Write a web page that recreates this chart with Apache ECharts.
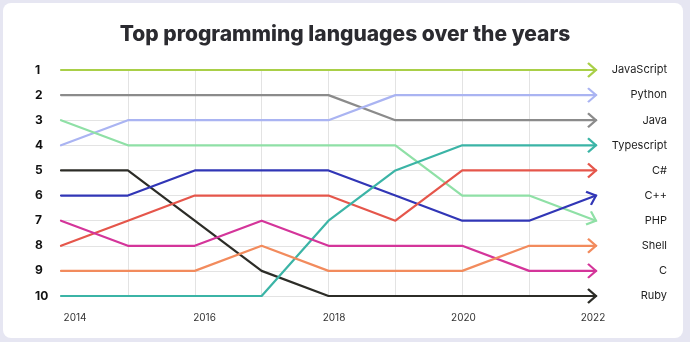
<!DOCTYPE html>
<html>
<head>
<meta charset="utf-8">
<script src="https://cdn.jsdelivr.net/npm/echarts@6/dist/echarts.min.js"></script>
<style>
  html, body { margin: 0; padding: 0; background: #e6e6f2; }
  #chart { width: 690px; height: 342px; }
</style>
</head>
<body>
<div id="chart"></div>
<script>
// ---- data ----
const years = [2014, 2015, 2016, 2017, 2018, 2019, 2020, 2021, 2022];
const xTickLabels = ['2014', '2016', '2018', '2020', '2022'];
const rankTicks = [1, 2, 3, 4, 5, 6, 7, 8, 9, 10];

const javascriptRank = [1, 1, 1, 1, 1, 1, 1, 1, 1];
const javaRank       = [2, 2, 2, 2, 2, 3, 3, 3, 3];
const pythonRank     = [4, 3, 3, 3, 3, 2, 2, 2, 2];
const phpRank        = [3, 4, 4, 4, 4, 4, 6, 6, 7];
const rubyRank       = [5, 5, 7, 9, 10, 10, 10, 10, 10];
const cppRank        = [6, 6, 5, 5, 5, 6, 7, 7, 6];
const csharpRank     = [8, 7, 6, 6, 6, 7, 5, 5, 5];
const typescriptRank = [10, 10, 10, 10, 7, 5, 4, 4, 4];
const cRank          = [7, 8, 8, 7, 8, 8, 8, 9, 9];
const shellRank      = [9, 9, 9, 8, 9, 9, 9, 8, 8];

const languages = [
  { name: 'JavaScript', values: javascriptRank, color: '#a9cf48' },
  { name: 'Java',       values: javaRank,       color: '#8b8b8b' },
  { name: 'Python',     values: pythonRank,     color: '#aab4f2' },
  { name: 'PHP',        values: phpRank,        color: '#8fe0a6' },
  { name: 'Ruby',       values: rubyRank,       color: '#2c2c27' },
  { name: 'C++',        values: cppRank,        color: '#3136b6' },
  { name: 'C#',         values: csharpRank,     color: '#e5564b' },
  { name: 'Typescript', values: typescriptRank, color: '#3bb4a6' },
  { name: 'C',          values: cRank,          color: '#d4359a' },
  { name: 'Shell',      values: shellRank,      color: '#f28b5d' }
];

const finalNameByRank = {};
languages.forEach(l => { finalNameByRank[l.values[l.values.length - 1]] = l.name; });

const arrowPath = 'path://M0,0L8,7L0,14M16,7L16,7';

function buildSeries(rotations) {
  return languages.map((l, si) => ({
    type: 'line',
    name: l.name,
    xAxisIndex: 0,
    yAxisIndex: 0,
    symbol: 'none',
    showSymbol: true,
    clip: false,
    silent: true,
    animation: false,
    lineStyle: { color: l.color, width: 2.2, cap: 'round', join: 'round' },
    itemStyle: { color: l.color },
    emphasis: { disabled: true },
    data: l.values.map((v, i) => {
      const item = { value: [years[i], v] };
      if (i === l.values.length - 1) {
        item.symbol = arrowPath;
        item.symbolSize = [16, 14];
        item.symbolRotate = rotations ? rotations[si] : 0;
        item.itemStyle = { color: 'none', borderColor: l.color, borderWidth: 2.2 };
      }
      return item;
    })
  }));
}

const chart = echarts.init(document.getElementById('chart'), null, { renderer: 'canvas' });

const option = {
  backgroundColor: '#e6e6f2',
  animation: false,
  graphic: [{
    type: 'rect', silent: true, z: -10,
    shape: { x: 3, y: 3, width: 680, height: 335, r: 8 },
    style: { fill: '#ffffff' }
  }],
  title: {
    text: 'Top programming languages over the years',
    left: 'center', top: 19,
    textStyle: { fontFamily: 'Inter', fontWeight: 800, fontSize: 21, color: '#2b2b30' }
  },
  grid: [
    { left: 61, right: 94, top: 70, bottom: 46 },
    { left: 75, right: 97, top: 70, bottom: 46 }
  ],
  xAxis: [{
    type: 'value', gridIndex: 0, min: 2014, max: 2022, interval: 1,
    axisLine: { show: false }, axisTick: { show: false }, axisLabel: { show: false },
    splitLine: { show: true, showMinLine: false, showMaxLine: false, lineStyle: { color: '#e3e3e3', width: 1 } }
  }, {
    type: 'category', gridIndex: 1, boundaryGap: false, data: xTickLabels,
    axisLine: { show: false }, axisTick: { show: false }, splitLine: { show: false },
    axisLabel: { margin: 17, fontFamily: 'Inter', fontSize: 10, color: '#333' }
  }],
  yAxis: [{
    type: 'value', gridIndex: 0, inverse: true, min: 1, max: 10, interval: 1,
    axisLine: { show: false }, axisTick: { show: false },
    axisLabel: { align: 'left', margin: 26, fontFamily: 'Inter', fontWeight: 700, fontSize: 12, color: '#111' },
    splitLine: { show: true, lineStyle: { color: '#e3e3e3', width: 1 } }
  }, {
    type: 'value', gridIndex: 0, position: 'right', inverse: true, min: 1, max: 10, interval: 1,
    axisLine: { show: false }, axisTick: { show: false }, splitLine: { show: false },
    axisLabel: {
      align: 'right', margin: 71, fontFamily: 'Inter', fontSize: 11, color: '#222',
      padding: [0, 0, 7, 0],
      formatter: v => finalNameByRank[v] || ''
    }
  }, {
    type: 'value', gridIndex: 1, show: false, min: 0, max: 1
  }],
  series: buildSeries(null)
};

chart.setOption(option);

// compute arrow rotation from the last segment of each line in pixel space
const rotations = languages.map(l => {
  const n = l.values.length;
  const p1 = chart.convertToPixel({ gridIndex: 0 }, [years[n - 2], l.values[n - 2]]);
  const p2 = chart.convertToPixel({ gridIndex: 0 }, [years[n - 1], l.values[n - 1]]);
  return Math.atan2(p1[1] - p2[1], p2[0] - p1[0]) * 180 / Math.PI;
});
chart.setOption({ series: buildSeries(rotations) });
</script>
</body>
</html>
